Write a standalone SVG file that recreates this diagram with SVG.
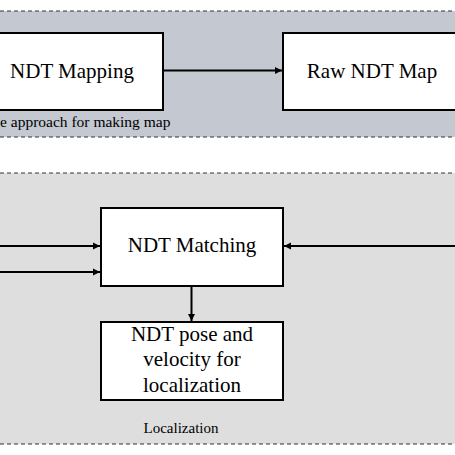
<svg xmlns="http://www.w3.org/2000/svg" width="455" height="455" viewBox="0 0 455 455">
<style>
.box{fill:#ffffff;stroke:#000;stroke-width:2}
.lbl{font-family:"Liberation Serif","Times New Roman",serif;font-size:21px;fill:#000;text-anchor:middle}
.small{font-family:"Liberation Serif","Times New Roman",serif;font-size:15.5px;fill:#000}
.dash{stroke:#333;stroke-width:1;stroke-dasharray:4,3;fill:none}
.conn{stroke:#000;stroke-width:2;fill:none}
</style>
<defs>
<marker id="ah" markerWidth="8" markerHeight="8" refX="7" refY="4" orient="auto" markerUnits="userSpaceOnUse">
<path d="M0,0.5 L7,4 L0,7.5 Z" fill="#000"/>
</marker>
</defs>
<rect width="455" height="455" fill="#ffffff"/>
<g id="panel-mapping">
<rect x="-2" y="11" width="460" height="126" fill="#c4c8d0"/>
<line class="dash" x1="0" y1="11" x2="455" y2="11"/>
<line class="dash" x1="0" y1="137" x2="455" y2="137"/>
<text class="small" x="0" y="127">e approach for making map</text>
</g>
<g id="panel-localization">
<rect x="-2" y="173" width="460" height="271" fill="#dedede"/>
<line class="dash" x1="0" y1="173" x2="455" y2="173"/>
<line class="dash" x1="0" y1="444" x2="455" y2="444"/>
<text class="small" x="181" y="433" text-anchor="middle" style="font-size:15px">Localization</text>
</g>
<g id="connectors">
<line class="conn" x1="164" y1="70.5" x2="282" y2="70.5" marker-end="url(#ah)"/>
<line class="conn" x1="0" y1="246" x2="100" y2="246" marker-end="url(#ah)"/>
<line class="conn" x1="0" y1="272" x2="100" y2="272" marker-end="url(#ah)"/>
<line class="conn" x1="455" y1="246" x2="284" y2="246" marker-end="url(#ah)"/>
<line class="conn" x1="191.5" y1="287" x2="191.5" y2="321" marker-end="url(#ah)"/>
</g>
<g id="node-ndt-mapping">
<rect class="box" x="-5" y="33" width="168" height="77"/>
<text class="lbl" x="72" y="78">NDT Mapping</text>
</g>
<g id="node-raw-ndt-map">
<rect class="box" x="283" y="33" width="180" height="77"/>
<text class="lbl" x="372" y="78">Raw NDT Map</text>
</g>
<g id="node-ndt-matching">
<rect class="box" x="101" y="208" width="182" height="78"/>
<text class="lbl" x="192" y="252">NDT Matching</text>
</g>
<g id="node-ndt-pose">
<rect class="box" x="101" y="322" width="182" height="78"/>
<text class="lbl" x="192" y="341">NDT pose and</text>
<text class="lbl" x="192" y="366">velocity for</text>
<text class="lbl" x="192" y="392">localization</text>
</g>
</svg>
